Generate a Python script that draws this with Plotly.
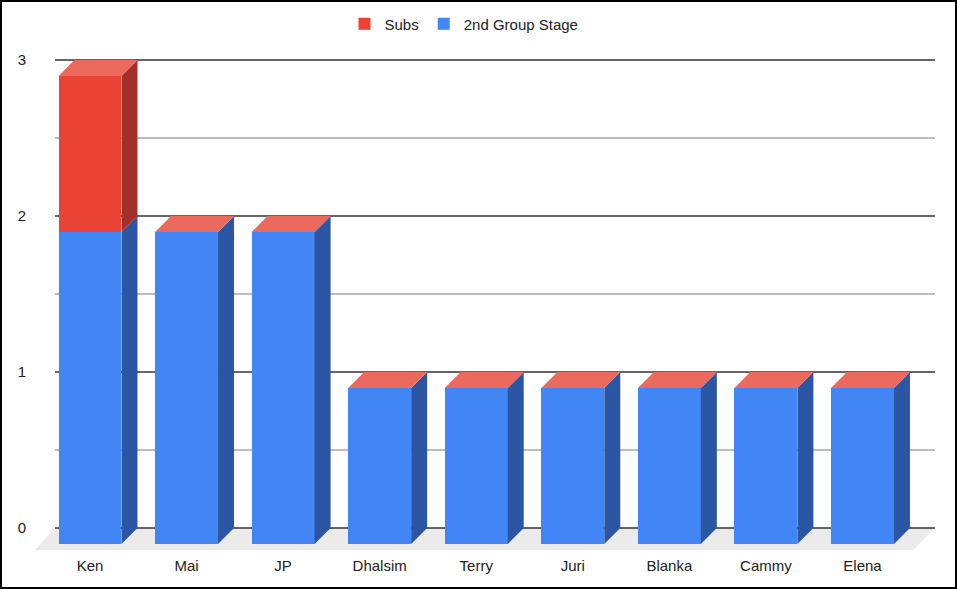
import plotly.graph_objects as go

# ---- data ----
categories = ["Ken", "Mai", "JP", "Dhalsim", "Terry", "Juri", "Blanka", "Cammy", "Elena"]
group_stage = [2, 2, 2, 1, 1, 1, 1, 1, 1]
subs = [1, 0, 0, 0, 0, 0, 0, 0, 0]
y_ticks = [0, 1, 2, 3]
y_minor = [0.5, 1.5, 2.5]

# ---- style / geometry ----
W, H = 957, 589
ML, MR, MT, MB = 35, 20, 55, 37
PW, PH = W - ML - MR, H - MT - MB
X_RANGE = [-0.5696, 8.7717]
Y_RANGE = [-0.0513, 3.1346]
DX, DY = 0.1657, 0.1026          # depth offset (data units)
BAR_W = 0.652
BLUE, BLUE_SIDE = "#4285F4", "#2B56A3"
RED, RED_SIDE, RED_TOP = "#EA4335", "#A3302A", "#EC695E"
FONT = "Arial, Liberation Sans, sans-serif"
TXT = "#222222"

xs = list(range(len(categories)))
fig = go.Figure()

# floor (shape, below traces)
fx0, fx1 = X_RANGE[0], len(categories) - 1 + 0.523
gx0, gx1 = fx0 + 1.25 * DX, fx1 + 1.25 * DX + 0.02
fy0 = -0.0385
fig.add_shape(type="path", xref="x", yref="y", layer="below",
              path=f"M {fx0},{fy0} L {gx0},{DY} L {gx1},{DY} L {fx1},{fy0} Z",
              fillcolor="#ebebeb", line=dict(width=0))

# gridlines (on back plane)
for v in y_minor:
    fig.add_shape(type="line", x0=gx0, x1=gx1, y0=v + DY, y1=v + DY, xref="x", yref="y",
                  line=dict(color="#bdbdbd", width=2), layer="below")
for v in y_ticks:
    fig.add_shape(type="line", x0=gx0, x1=gx1, y0=v + DY, y1=v + DY, xref="x", yref="y",
                  line=dict(color="#333333", width=1.5), layer="below")


def side_polys(bases, tops):
    px, py = [], []
    for i, (b, t) in enumerate(zip(bases, tops)):
        if t <= b:
            continue
        xr = i + BAR_W / 2
        px += [xr, xr + DX, xr + DX, xr, xr, None]
        py += [b, b + DY, t + DY, t, b, None]
    return px, py


blue_tops = group_stage
red_tops = [g + s for g, s in zip(group_stage, subs)]

bx, by = side_polys([0] * len(xs), blue_tops)
fig.add_trace(go.Scatter(x=bx, y=by, fill="toself", fillcolor=BLUE_SIDE, line=dict(width=0),
                         mode="lines", hoverinfo="skip", showlegend=False))
rx, ry = side_polys(blue_tops, red_tops)
fig.add_trace(go.Scatter(x=rx, y=ry, fill="toself", fillcolor=RED_SIDE, line=dict(width=0),
                         mode="lines", hoverinfo="skip", showlegend=False))

# top faces (top series colour)
tx, ty = [], []
for i, t in enumerate(red_tops):
    xl, xr = i - BAR_W / 2, i + BAR_W / 2
    tx += [xl, xl + DX, xr + DX, xr, xl, None]
    ty += [t, t + DY, t + DY, t, t, None]
fig.add_trace(go.Scatter(x=tx, y=ty, fill="toself", fillcolor=RED_TOP, line=dict(width=0),
                         mode="lines", hoverinfo="skip", showlegend=False))

# front faces
fig.add_trace(go.Bar(x=xs, y=group_stage, name="2nd Group Stage", marker=dict(color=BLUE, line=dict(width=0)),
                     width=BAR_W, legendrank=2))
fig.add_trace(go.Bar(x=xs, y=subs, name="Subs", marker=dict(color=RED, line=dict(width=0)),
                     width=BAR_W, legendrank=1))

# border
fig.add_shape(type="rect", xref="paper", yref="paper",
              x0=(-ML + 1) / PW, x1=1 + (MR - 1) / PW,
              y0=(-MB + 1) / PH, y1=1 + (MT - 1) / PH,
              line=dict(color="#000000", width=2), fillcolor="rgba(0,0,0,0)", layer="above")

fig.update_layout(
    width=W, height=H, barmode="stack", bargap=0,
    margin=dict(l=ML, r=MR, t=MT, b=MB, pad=0, autoexpand=False),
    paper_bgcolor="white", plot_bgcolor="white",
    font=dict(family=FONT, size=15, color=TXT),
    showlegend=True,
    legend=dict(orientation="h", traceorder="normal", x=(464 - ML) / PW, xanchor="center",
                y=1 + (MT - 24) / PH, yanchor="middle",
                font=dict(size=15, color=TXT), bgcolor="rgba(0,0,0,0)"),
    xaxis=dict(range=X_RANGE, tickvals=xs, ticktext=categories, showgrid=False, zeroline=False,
               showline=False, ticks="", ticklabelstandoff=3, tickfont=dict(size=15, color=TXT),
               fixedrange=True),
    yaxis=dict(range=Y_RANGE, tickvals=[v + DY for v in y_ticks], ticktext=[str(v) for v in y_ticks],
               showgrid=False, zeroline=False, showline=False, ticks="", ticklabelstandoff=8,
               tickfont=dict(size=15, color=TXT), fixedrange=True),
)

fig.write_html("out.html")
